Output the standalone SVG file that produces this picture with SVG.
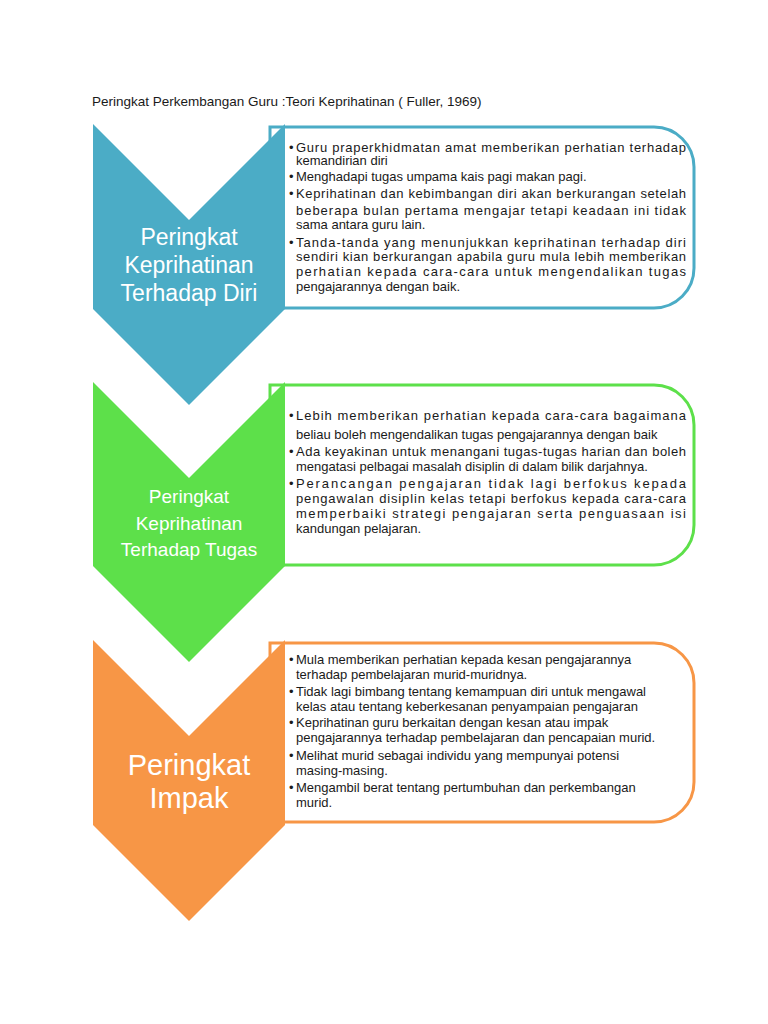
<svg xmlns="http://www.w3.org/2000/svg" width="768" height="1024" viewBox="0 0 768 1024">
<style>
text{font-family:"Liberation Sans",Arial,sans-serif}
.t{font-size:13px;fill:#1a1a1a}
.l{fill:#fff;text-anchor:middle}
.box{fill:#fff;stroke-width:3}
</style>
<rect width="768" height="1024" fill="#fff"/>
<text x="92" y="106" style="font-size:13.5px;fill:#1a1a1a">Peringkat Perkembangan Guru :Teori Keprihatinan ( Fuller, 1969)</text>
<g id="box1">
<path class="box" stroke="#4BACC6" d="M270 127H654A40 40 0 0 1 694 167V268A40 40 0 0 1 654 308H270Z"/>
<path fill="#4BACC6" d="M93 124L189 220L285 124V309L189 405L93 309Z"/>
<text class="l" style="font-size:23px"><tspan x="189" y="245">Peringkat</tspan><tspan x="189" y="273">Keprihatinan</tspan><tspan x="189" y="301">Terhadap Diri</tspan></text>
<text class="t"><tspan x="289" y="152">•</tspan><tspan x="296" y="152" textLength="390" lengthAdjust="spacing">Guru praperkhidmatan amat memberikan perhatian terhadap</tspan><tspan x="296" y="165">kemandirian diri</tspan><tspan x="289" y="181">•</tspan><tspan x="296" y="181">Menghadapi tugas umpama kais pagi makan pagi.</tspan><tspan x="289" y="198">•</tspan><tspan x="296" y="198" textLength="390" lengthAdjust="spacing">Keprihatinan dan kebimbangan diri akan berkurangan setelah</tspan><tspan x="296" y="215" textLength="390" lengthAdjust="spacing">beberapa bulan pertama mengajar tetapi keadaan ini tidak</tspan><tspan x="296" y="229">sama antara guru lain.</tspan><tspan x="289" y="247">•</tspan><tspan x="296" y="247" textLength="390" lengthAdjust="spacing">Tanda-tanda yang menunjukkan keprihatinan terhadap diri</tspan><tspan x="296" y="261" textLength="390" lengthAdjust="spacing">sendiri kian berkurangan apabila guru mula lebih memberikan</tspan><tspan x="296" y="276" textLength="390" lengthAdjust="spacing">perhatian  kepada cara-cara untuk mengendalikan tugas</tspan><tspan x="296" y="291">pengajarannya dengan baik.</tspan></text>
</g>
<g id="box2">
<path class="box" stroke="#5DE04A" d="M270 385H654A40 40 0 0 1 694 425V525A40 40 0 0 1 654 565H270Z"/>
<path fill="#5DE04A" d="M93 382L189 478L285 382V566L189 662L93 566Z"/>
<text class="l" style="font-size:19px"><tspan x="189" y="503">Peringkat</tspan><tspan x="189" y="530">Keprihatinan</tspan><tspan x="189" y="556">Terhadap Tugas</tspan></text>
<text class="t"><tspan x="289" y="420">•</tspan><tspan x="296" y="420" textLength="390" lengthAdjust="spacing">Lebih memberikan perhatian kepada cara-cara bagaimana</tspan><tspan x="296" y="439">beliau boleh mengendalikan tugas pengajarannya dengan baik</tspan><tspan x="289" y="456">•</tspan><tspan x="296" y="456" textLength="390" lengthAdjust="spacing">Ada keyakinan untuk menangani  tugas-tugas harian dan boleh</tspan><tspan x="296" y="471">mengatasi pelbagai masalah disiplin di dalam bilik darjahnya.</tspan><tspan x="289" y="488">•</tspan><tspan x="296" y="488" textLength="390" lengthAdjust="spacing">Perancangan pengajaran tidak lagi berfokus kepada</tspan><tspan x="296" y="503" textLength="390" lengthAdjust="spacing">pengawalan disiplin kelas tetapi berfokus  kepada cara-cara</tspan><tspan x="296" y="518" textLength="390" lengthAdjust="spacing">memperbaiki strategi pengajaran serta penguasaan isi</tspan><tspan x="296" y="533">kandungan pelajaran.</tspan></text>
</g>
<g id="box3">
<path class="box" stroke="#F79646" d="M270 643H654A40 40 0 0 1 694 683V782A40 40 0 0 1 654 822H270Z"/>
<path fill="#F79646" d="M93 640L189 736L285 640V825L189 921L93 825Z"/>
<text class="l" style="font-size:29px"><tspan x="189" y="775">Peringkat</tspan><tspan x="189" y="808">Impak</tspan></text>
<text class="t"><tspan x="289" y="664">•</tspan><tspan x="296" y="664">Mula memberikan perhatian kepada kesan pengajarannya</tspan><tspan x="296" y="679">terhadap pembelajaran murid-muridnya.</tspan><tspan x="289" y="696">•</tspan><tspan x="296" y="696">Tidak lagi bimbang tentang kemampuan diri untuk mengawal</tspan><tspan x="296" y="711">kelas atau tentang keberkesanan penyampaian pengajaran</tspan><tspan x="289" y="727">•</tspan><tspan x="296" y="727">Keprihatinan guru berkaitan dengan kesan atau impak</tspan><tspan x="296" y="742">pengajarannya terhadap pembelajaran dan pencapaian murid.</tspan><tspan x="289" y="760">•</tspan><tspan x="296" y="760">Melihat murid sebagai individu yang mempunyai potensi</tspan><tspan x="296" y="775">masing-masing.</tspan><tspan x="289" y="792">•</tspan><tspan x="296" y="792">Mengambil berat tentang pertumbuhan dan perkembangan</tspan><tspan x="296" y="807">murid.</tspan></text>
</g>
<g id="connectors"/>
</svg>
